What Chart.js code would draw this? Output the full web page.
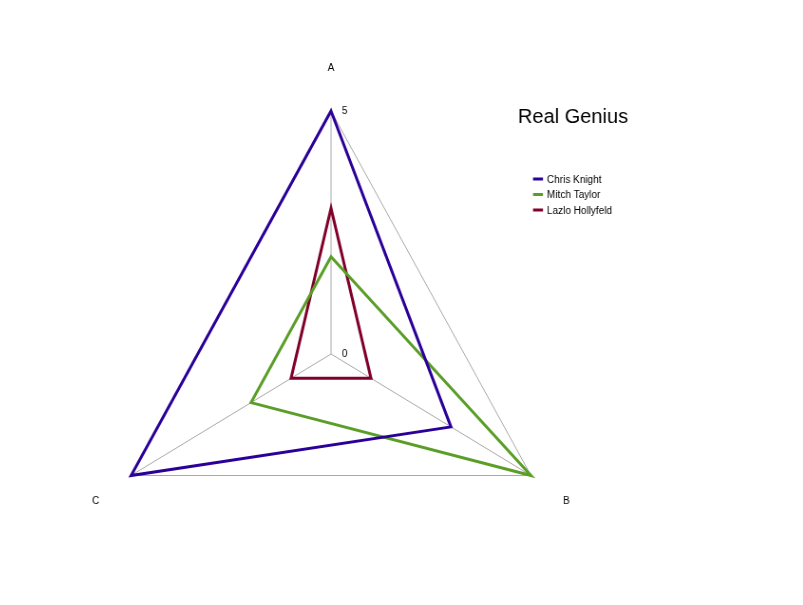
<!DOCTYPE html>
<html>
<head>
<meta charset="utf-8">
<script src="https://cdn.jsdelivr.net/npm/chart.js@4/dist/chart.umd.min.js"></script>
<style>
html,body{margin:0;padding:0;background:#fff;overflow:hidden;}
#wrap{position:relative;width:803px;height:605px;}
#c{display:block;transform:scaleX(0.95);transform-origin:331px 0;}
</style>
</head>
<body>
<div id="wrap"><canvas id="c" width="803" height="605"></canvas></div>
<script>
const categories = ['A', 'B', 'C'];
const seriesNames = ['Chris Knight', 'Mitch Taylor', 'Lazlo Hollyfeld'];
const chrisKnight = [5, 3, 5];
const mitchTaylor = [2, 5, 2];
const lazloHollyfeld = [3, 1, 1];
const tickValues = [0, 5];
const chartTitle = 'Real Genius';

const colors = ['#2a0099', '#5a9e28', '#80002a'];
const seriesValues = [chrisKnight, mitchTaylor, lazloHollyfeld];

const FONT = 'Arial, "Liberation Sans", sans-serif';
const K = 0.95;       // horizontal squeeze of the canvas (CSS)
const CX = 331;       // transform origin x

function toCanvasX(sx) { return CX + (sx - CX) / K; }
function text(ctx, t, cx, y) {
  ctx.save();
  ctx.translate(cx, y);
  ctx.scale(1 / K, 1);
  ctx.fillText(t, 0, 0);
  ctx.restore();
}

const overlay = {
  id: 'overlay',
  afterDraw(chart) {
    const ctx = chart.ctx;
    const s = chart.scales.r;
    ctx.save();
    ctx.fillStyle = '#000';
    ctx.font = '10px ' + FONT;
    ctx.textAlign = 'center';
    ctx.textBaseline = 'middle';
    chart.data.labels.forEach((lab, i) => {
      const p = s.getPointPosition(i, s.drawingArea + 43);
      text(ctx, lab, p.x, p.y + (i === 0 ? 0 : 4));
    });
    ctx.textAlign = 'left';
    tickValues.forEach(v => {
      const d = s.getDistanceFromCenterForValue(v);
      text(ctx, String(v), toCanvasX(s.xCenter + 11), s.yCenter - d);
    });
    ctx.font = '20px ' + FONT;
    text(ctx, chartTitle, toCanvasX(518), 117);
    ctx.font = '10px ' + FONT;
    chart.data.datasets.forEach((ds, i) => {
      const y = 179 + i * 15.5;
      ctx.strokeStyle = ds.borderColor;
      ctx.lineWidth = 3;
      ctx.beginPath();
      ctx.moveTo(toCanvasX(533), y);
      ctx.lineTo(toCanvasX(543), y);
      ctx.stroke();
      ctx.fillStyle = '#000';
      text(ctx, ds.label, toCanvasX(547), y + 1);
    });
    ctx.restore();
  }
};

new Chart(document.getElementById('c'), {
  type: 'radar',
  data: {
    labels: categories,
    datasets: seriesNames.map((n, i) => ({
      label: n,
      data: seriesValues[i],
      borderColor: colors[i],
      backgroundColor: 'rgba(0,0,0,0)',
      borderWidth: 3,
      pointRadius: 0,
      pointHoverRadius: 0,
      fill: false,
      tension: 0
    }))
  },
  options: {
    responsive: false,
    animation: false,
    devicePixelRatio: 1,
    layout: { padding: { left: 88, top: 111, right: 229, bottom: 8 } },
    plugins: {
      legend: { display: false },
      title: { display: false },
      tooltip: { enabled: false }
    },
    scales: {
      r: {
        min: 0,
        max: 5,
        ticks: { stepSize: 5, display: false, showLabelBackdrop: false },
        grid: { color: '#a8a8a8', lineWidth: 1 },
        angleLines: { color: '#a8a8a8', lineWidth: 1 },
        pointLabels: { display: false }
      }
    }
  },
  plugins: [overlay]
});
</script>
</body>
</html>
